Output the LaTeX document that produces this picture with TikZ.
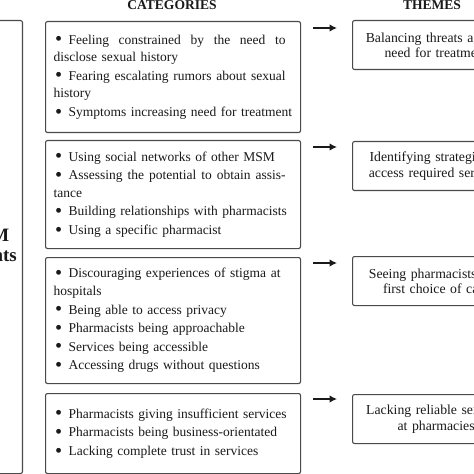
\documentclass[tikz,border=0pt]{standalone}
\usepackage{fontspec}
\usepackage{graphicx}
\setmainfont{Liberation Serif}
\usetikzlibrary{arrows.meta}
\definecolor{boxgray}{HTML}{4A4A4A}
\definecolor{txt}{HTML}{1A1A1A}
\newcommand\bt{\makebox[15bp][l]{\hspace{1.5bp}\raisebox{-1.6bp}{\scalebox{1.5}{\textbullet}}}}
\newcommand\oneline[1]{\mbox{#1}}
\newcommand\fullline[2][232bp]{\leavevmode{\spaceskip=3.3bp plus 1fil\relax\hbox to #1{#2}}}
\begin{document}
\begin{tikzpicture}[x=1bp,y=-1bp,
  box/.style={draw=boxgray, line width=1.1bp, rounded corners=2bp, fill=white},
  catbox/.style={box, anchor=north west, minimum width=255bp, text width=239bp,
     inner xsep=8bp, inner ysep=0pt, align=left, text=txt,
     font=\fontsize{13.55}{17.7}\selectfont},
  themebox/.style={box, anchor=north west, minimum width=167bp, minimum height=49bp,
     text width=160bp, inner xsep=3.5bp, inner ysep=0pt, align=center, text=txt,
     font=\fontsize{13.8}{15.5}\selectfont},
  header/.style={anchor=base, text=txt, font=\fontsize{13.6}{16}\selectfont\bfseries},
  lefttxt/.style={anchor=base east, inner sep=0pt, text=txt, font=\fontsize{19}{20}\selectfont\bfseries},
  arr/.style={draw=txt, line width=1.3bp, -{Latex[length=7.5bp,width=7.5bp]}}
]
\useasboundingbox (0,0) rectangle (474,474);
\fill[white] (0,0) rectangle (474,474);
\begin{scope}
\clip (0,0) rectangle (474,474);

% headers
\node[header] (hcat) at (172,9.5) {CATEGORIES};
\node[header] (hthm) at (432,9.5) {THEMES};

% left box
\node[box, anchor=north east, minimum width=80bp, minimum height=453bp] (left) at (23,20) {};
\node[lefttxt] (l1) at (9.5,241) {MSM};
\node[lefttxt] (l2) at (17,261) {participants};

% category boxes
\node[catbox, minimum height=111bp] (c1) at (45,21) {%
\fullline{\bt Feeling constrained by the need to}\\
\oneline{disclose sexual history}\\[1bp]
\fullline{\bt Fearing escalating rumors about sexual}\\
\oneline{history}\\[1bp]
\oneline{\bt Symptoms increasing need for treatment}};

\node[catbox, minimum height=108bp] (c2) at (45,140) {%
\oneline{\bt Using social networks of other MSM}\\[1bp]
\fullline{\bt Assessing the potential to obtain assis-}\\
\oneline{tance}\\[1bp]
\oneline{\bt Building relationships with pharmacists}\\[1bp]
\oneline{\bt Using a specific pharmacist}};

\node[catbox, minimum height=126bp] (c3) at (45,257) {%
\fullline[227bp]{\bt Discouraging experiences of stigma at}\\
\oneline{hospitals}\\[1bp]
\oneline{\bt Being able to access privacy}\\[1bp]
\oneline{\bt Pharmacists being approachable}\\[1bp]
\oneline{\bt Services being accessible}\\[1bp]
\oneline{\bt Accessing drugs without questions}};

\node[catbox, minimum height=80bp] (c4) at (45,393) {%
\oneline{\bt Pharmacists giving insufficient services}\\[1bp]
\oneline{\bt Pharmacists being business-orientated}\\[1bp]
\oneline{\bt Lacking complete trust in services}};

% theme boxes
\node[themebox] (t1) at (352,20) {Balancing threats against\\need for treatment};
\node[themebox] (t2) at (352,141) {Identifying strategies to\\access required services};
\node[themebox] (t3) at (352,256) {Seeing pharmacists as a\\first choice of care};
\node[themebox] (t4) at (352,394) {Lacking reliable services\\at pharmacies};

% arrows
\draw[arr, shorten <=12bp, shorten >=15bp] ([yshift=-8bp]t1.north west -| c1.east) -- ([yshift=-8bp]t1.north west);
\draw[arr, shorten <=12bp, shorten >=15bp] ([yshift=-6bp]t2.north west -| c2.east) -- ([yshift=-6bp]t2.north west);
\draw[arr, shorten <=12bp, shorten >=15bp] ([yshift=-7bp]t3.north west -| c3.east) -- ([yshift=-7bp]t3.north west);
\draw[arr, shorten <=12bp, shorten >=15bp] ([yshift=-5bp]t4.north west -| c4.east) -- ([yshift=-5bp]t4.north west);
\end{scope}
\end{tikzpicture}
\end{document}
